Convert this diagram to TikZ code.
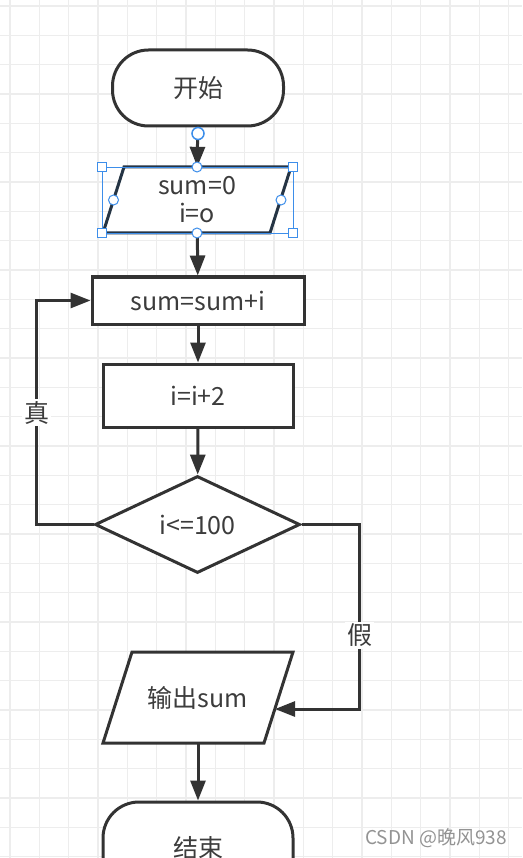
\documentclass[tikz,border=0pt]{standalone}
\usepackage{fontspec}
\setmainfont{Noto Sans CJK SC}
\usetikzlibrary{shapes.geometric, arrows.meta, calc}
\definecolor{lineclr}{HTML}{333333}
\definecolor{gridclr}{HTML}{EDEDED}
\definecolor{selclr}{HTML}{3D8EEA}
\definecolor{txtclr}{HTML}{3C3C3C}

\begin{document}
\begin{tikzpicture}[x=1pt, y=-1pt,
  every node/.style={font=\fontsize{25}{28}\selectfont, text=txtclr},
  terminal/.style={draw=lineclr, line width=3pt, rounded corners=36pt, fill=white, minimum width=171pt, minimum height=76pt},
  process/.style={draw=lineclr, line width=3pt, fill=white},
  io/.style={inner sep=0pt, align=center},
  ioline/.style={draw=lineclr, line width=3pt, fill=white, line join=miter},
  decision/.style={diamond, aspect=2, inner sep=0pt, draw=lineclr, line width=3pt, fill=white, minimum width=205pt, minimum height=97pt},
  arrow/.style={draw=lineclr, line width=3pt, -{Triangle[length=20pt, width=15pt]}},
  handle/.style={draw=selclr, line width=1pt, fill=white}]
\useasboundingbox (0,0) rectangle (522,858);
\clip (0,0) rectangle (522,858);
\fill[white] (0,0) rectangle (522,858);
\foreach \gx in {0,...,17}
  \draw[gridclr, line width=1.3pt] ({10+29.33*\gx},0) -- ++(0,858);
\foreach \gy in {0,...,29}
  \draw[gridclr, line width=1.3pt] (0,{6+29.33*\gy}) -- ++(522,0);

\filldraw[ioline, draw=lineclr!75!selclr!70!black] (103,233) -- (124,167) -- (291,167) -- (270,233) -- cycle;
\filldraw[ioline] (103,743) -- (132,652) -- (293,652) -- (264,743) -- cycle;

\node[terminal] (start) at (198,88) {开始};
\node[io, minimum width=188pt, minimum height=66pt] (init) at (197,200) {sum=0\\i=o};
\node[process, minimum width=212pt, minimum height=47pt] (add) at (198,300.5) {sum=sum+i};
\node[process, minimum width=190pt, minimum height=63pt] (inc) at (198,395.5) {i=i+2};
\node[decision] (cond) at (197.5,524.5) {i<=100};
\node[io, minimum width=190pt, minimum height=91pt] (out) at (198,697.5) {输出sum};
\node[terminal, minimum width=190pt, minimum height=92pt] (stop) at (198,848) {结束};
\coordinate (outin) at ($(out.north east)!0.626!([xshift=-29pt]out.south east)$);

\draw[arrow] (start) -- (init);
\draw[arrow] (init) -- (add);
\draw[arrow] (add) -- (inc);
\draw[arrow] (inc) -- (cond);
\draw[arrow] (cond.west) -- ++(-57,0) |- (add.west) node[pos=0.25, fill=white, inner sep=2pt] {真};
\draw[arrow] (cond.east) -- ++(58,0) |- (outin) node[pos=0.3, fill=white, inner sep=2pt] {假};
\draw[arrow] (out) -- (stop);

\draw[selclr, line width=0.8pt] (102,167) rectangle (293,233);
\foreach \cx/\cy in {102/167, 293/167, 102/233, 293/233}
  \draw[handle] (\cx-4.5,\cy-4.5) rectangle +(9,9);
\foreach \cx/\cy in {197/167, 197/233, 113.5/200, 281/200}
  \draw[handle] (\cx,\cy) circle (5pt);
\draw[handle, line width=1.5pt] ($(start.south)+(0,6)$) circle (6pt);

\node[font=\fontsize{19}{19}\selectfont, text=gray!85] (mark) at (436,838) {CSDN @晚风938};
\end{tikzpicture}
\end{document}
